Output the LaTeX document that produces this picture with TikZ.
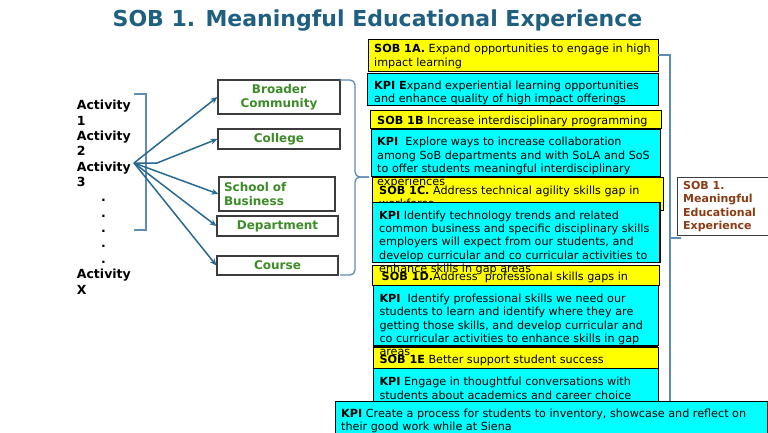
\documentclass[tikz,border=0pt]{standalone}
\usepackage{fontspec}
\setmainfont{DejaVu Sans}
\usetikzlibrary{arrows.meta}
\definecolor{titlec}{RGB}{31,95,128}
\definecolor{grn}{RGB}{60,140,40}
\definecolor{brn}{RGB}{140,60,20}
\definecolor{arr}{RGB}{40,105,145}
\definecolor{brk}{RGB}{95,140,180}
\definecolor{ylw}{RGB}{255,255,0}
\definecolor{cyn}{RGB}{0,255,255}
\definecolor{bdr}{RGB}{60,60,60}
\begin{document}
\begin{tikzpicture}[x=1pt,y=-1pt,
 txt/.style={anchor=north west, inner sep=0pt, align=left, font=\fontsize{11.2}{13.3}\selectfont},
 ybox/.style={fill=ylw, draw=black, line width=0.8pt},
 cbox/.style={fill=cyn, draw=black, line width=0.8pt},
 gbox/.style={draw=bdr, line width=1.2pt, fill=white, font=\fontsize{12}{14.5}\selectfont\bfseries, text=grn, inner sep=0pt, align=center},
 arrw/.style={draw=arr, line width=1.5pt, -{Stealth[length=7pt,width=6pt]}},
 brc/.style={draw=brk, line width=1.3pt},
]
\useasboundingbox (0,0) rectangle (768,433);
\fill[white] (0,0) rectangle (768,433);
\clip (0,0) rectangle (768,433);

% title
\node[anchor=base, inner sep=0pt, font=\fontsize{22}{26}\selectfont\bfseries, text=titlec] (title) at (377.5,27) {SOB 1. Meaningful Educational Experience};

% activities
\node[anchor=north west, inner sep=0pt, align=left, font=\fontsize{12.5}{15.36}\selectfont\bfseries] (acts) at (76.7,98.8)
 {\strut Activity\\1\\Activity\\2\\Activity\\3\\\makebox[53pt]{.}\\\makebox[53pt]{.}\\\makebox[53pt]{.}\\\makebox[53pt]{.}\\\makebox[53pt]{.}\\Activity\\X};
\draw[brc] (134,94) -- (146,94) -- (146,230) -- (134,230);
\coordinate (hub) at (134,163);
\coordinate (elb) at (157,163);

% level boxes
\node[gbox, minimum width=122pt, minimum height=34pt] (bc) at (279,97) {Broader\\Community};
\node[gbox, minimum width=122pt, minimum height=20pt] (col) at (279,139) {College};
\node[gbox, minimum width=116pt, minimum height=34pt, text width=106pt, align=left] (sob) at (277,194) {School of\\Business};
\node[gbox, minimum width=121pt, minimum height=20pt] (dep) at (277.5,226) {Department};
\node[gbox, minimum width=121pt, minimum height=19pt] (crs) at (277.5,265.5) {Course};

\draw[arrw] (hub) -- (bc.west);
\draw[arrw] (hub) -- (elb) -- (col.west);
\draw[arrw] (hub) -- (sob.west);
\draw[arrw] (hub) -- (dep.west);
\draw[arrw] (hub) -- (crs.west);

% middle brace
\draw[brc, rounded corners=5pt] (340,80) -- (355,80) -- (355,177) -- (369,177);
\draw[brc, rounded corners=5pt] (369,177) -- (355,177) -- (355,275) -- (340,275);

% right column
\path[ybox] (368,39) rectangle (658,71);
\node[txt] (t1a) at (374,43.4) {\strut\textbf{SOB 1A.} Expand opportunities to engage in high\\impact learning};
\path[cbox] (367,73) rectangle (658,105);
\node[txt] (k1a) at (374,79.7) {\strut\textbf{KPI E}xpand experiential learning opportunities\\and enhance quality of high impact offerings};
\path[ybox] (370,110) rectangle (661,128.5);
\node[txt] (t1b) at (377,114.7) {\strut\textbf{SOB 1B} Increase interdisciplinary programming};
\path[ybox] (372.3,177.3) rectangle (663.3,210);
\path[cbox] (371,129.3) rectangle (660,176.7);
\node[txt] (k1b) at (377,136.4) {\strut\textbf{KPI}\ \ Explore ways to increase collaboration\\among SoB departments and with SoLA and SoS\\to offer students meaningful interdisciplinary\\experiences};
\node[txt] (t1c) at (379,184.7) {\strut\textbf{SOB 1C.} Address technical agility skills gap in\\workforce};
\path[ybox] (372.3,265) rectangle (659.3,285);
\path[cbox, line width=1.2pt] (372.7,202.7) rectangle (660,262.7);
\node[txt] (k1c) at (379,209.7) {\strut\textbf{KPI} Identify technology trends and related\\common business and specific disciplinary skills\\employers will expect from our students, and\\develop curricular and co curricular activities to\\enhance skills in gap areas};
\node[txt] (t1d) at (381.5,271.4) {\strut\textbf{SOB 1D.}Address\ \ professional skills gaps in};
\path[ybox] (373.3,347) rectangle (658.3,368);
\path[cbox] (373.3,285) rectangle (658.3,345.7);
\draw[black, line width=1.6pt] (373.3,345.9) -- (658.3,345.9);
\node[txt] (k1d) at (379.3,293) {\strut\textbf{KPI}\ \ Identify professional skills we need our\\students to learn and identify where they are\\getting those skills, and develop curricular and\\co curricular activities to enhance skills in gap\\areas};
\node[txt] (t1e) at (379.3,354) {\strut\textbf{SOB 1E} Better support student success};

% right bracket and SOB 1 box
\draw[brc, line width=1.2pt] (658,55) -- (670,55) -- (670,433);
\draw[brc, line width=1.2pt] (670,238) -- (681,238);
\path[draw=bdr, fill=white, line width=0.8pt] (677,177) rectangle (780,235);
\node[anchor=north west, inner sep=0pt, align=left, font=\fontsize{11}{13.5}\selectfont\bfseries, text=brn] (sob1) at (683,179.5) {\strut SOB 1.\\Meaningful\\Educational\\Experience};

\path[cbox] (373.3,368) rectangle (658.3,402);
\node[txt] (k1e) at (379.3,376.4) {\strut\textbf{KPI} Engage in thoughtful conversations with\\students about academics and career choice};
\path[cbox] (335,401.7) rectangle (767,440);
\node[txt] (kf) at (341,408) {\strut\textbf{KPI} Create a process for students to inventory, showcase and reflect on\\their good work while at Siena};
\end{tikzpicture}
\end{document}
